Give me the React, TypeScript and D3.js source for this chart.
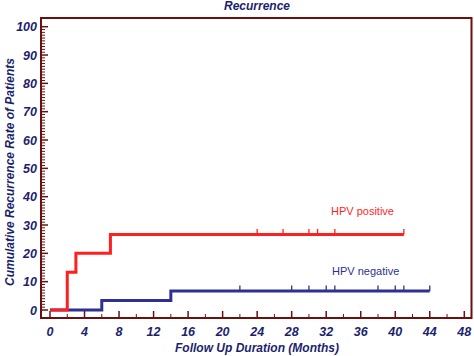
import React from "react";
import * as d3 from "d3";

const months = [0, 2, 3, 6, 7, 14, 41, 44];
const posTimes = [0, 2, 3, 7, 41];
const posValues = [0, 13.33, 20, 26.67, 26.67];
const negTimes = [0, 6, 14, 44];
const negValues = [0, 3.33, 6.67, 6.67];
const posCensored = [24, 27, 30, 31, 33, 41];
const negCensored = [22, 28, 30, 32, 33, 38, 40, 41, 44];
const xTickLabels = [0, 4, 8, 12, 16, 20, 24, 28, 32, 36, 40, 44, 48];
const yTickLabels = [0, 10, 20, 30, 40, 50, 60, 70, 80, 90, 100];

const W = 474;
const H = 356;
const AXIS = "#6a1010";
const NAVY = "#1c1f6e";
const RED = "#ff1f1f";
const BLUE = "#2e3192";
const FONT = "Liberation Sans, Arial, sans-serif";

export default function App() {
  const x = d3.scaleLinear().domain([0, 48]).range([50, 464.3]);
  const y = d3.scaleLinear().domain([0, 100]).range([310, 26.7]);
  const frame = { l: 41, t: 18, r: 471.5, b: 318 };

  const line = d3
    .line<[number, number]>()
    .x((d) => x(d[0]))
    .y((d) => y(d[1]))
    .curve(d3.curveStepAfter);

  const posData: [number, number][] = posTimes.map((t, i) => [t, posValues[i]]);
  const negData: [number, number][] = negTimes.map((t, i) => [t, negValues[i]]);
  const valueAt = (times: number[], vals: number[], t: number) => {
    let v = vals[0];
    times.forEach((tt, i) => {
      if (tt <= t) v = vals[i];
    });
    return v;
  };

  const yMinor = d3.range(0, 101, 1).filter((v) => v % 10 !== 0);
  const xMinor = d3.range(2, 48, 4);
  void months;

  return (
    <svg
      width={W}
      height={H}
      style={{ position: "absolute", left: 0, top: 0, background: "#fff" }}
      fontFamily={FONT}
    >
      <rect x={0} y={0} width={W} height={H} fill="#fff" />
      <text
        x={257}
        y={10}
        textAnchor="middle"
        fontSize={12}
        fontWeight="bold"
        fontStyle="italic"
        fill={NAVY}
      >
        Recurrence
      </text>

      {/* Y ticks */}
      {yTickLabels.map((v) => (
        <g key={"y" + v}>
          <line x1={frame.l} x2={frame.l + 7} y1={y(v)} y2={y(v)} stroke={AXIS} strokeWidth={1.5} />
          <text
            x={37}
            y={y(v) + 4.5}
            textAnchor="end"
            fontSize={12.5}
            fontWeight="bold"
            fontStyle="italic"
            fill={NAVY}
          >
            {v}
          </text>
        </g>
      ))}
      {yMinor.map((v) => (
        <line key={"ym" + v} x1={frame.l} x2={frame.l + 4} y1={y(v)} y2={y(v)} stroke={AXIS} strokeWidth={1} />
      ))}

      {/* X ticks */}
      {xTickLabels.map((v) => (
        <g key={"x" + v}>
          <line x1={x(v)} x2={x(v)} y1={frame.b} y2={frame.b - 7} stroke={AXIS} strokeWidth={1.5} />
          <text
            x={x(v)}
            y={336}
            textAnchor="middle"
            fontSize={12.5}
            fontWeight="bold"
            fontStyle="italic"
            fill={NAVY}
          >
            {v}
          </text>
        </g>
      ))}
      {xMinor.map((v) => (
        <line key={"xm" + v} x1={x(v)} x2={x(v)} y1={frame.b} y2={frame.b - 4} stroke={AXIS} strokeWidth={1} />
      ))}

      {/* Frame */}
      <rect
        x={frame.l}
        y={frame.t}
        width={frame.r - frame.l}
        height={frame.b - frame.t}
        fill="none"
        stroke={AXIS}
        strokeWidth={2}
      />

      {/* Curves */}
      <path d={line(negData) || ""} fill="none" stroke={BLUE} strokeWidth={3} />
      <path d={line(posData) || ""} fill="none" stroke={RED} strokeWidth={3} />

      {negCensored.map((t, i) => {
        const v = valueAt(negTimes, negValues, t);
        return (
          <line key={"nc" + i} x1={x(t)} x2={x(t)} y1={y(v)} y2={y(v) - 5.5} stroke={BLUE} strokeWidth={1.3} />
        );
      })}
      {posCensored.map((t, i) => {
        const v = valueAt(posTimes, posValues, t);
        return (
          <line key={"pc" + i} x1={x(t)} x2={x(t)} y1={y(v)} y2={y(v) - 5.5} stroke={RED} strokeWidth={1.3} />
        );
      })}

      <text x={331} y={215} fontSize={11} fill={RED}>
        HPV positive
      </text>
      <text x={332} y={275} fontSize={11} fill={BLUE}>
        HPV negative
      </text>

      {/* Axis titles */}
      <text
        x={257}
        y={352}
        textAnchor="middle"
        fontSize={12}
        fontWeight="bold"
        fontStyle="italic"
        fill={NAVY}
      >
        Follow Up Duration (Months)
      </text>
      <text
        transform={`translate(14, 172) rotate(-90)`}
        textAnchor="middle"
        fontSize={12}
        fontWeight="bold"
        fontStyle="italic"
        fill={NAVY}
      >
        Cumulative Recurrence Rate of Patients
      </text>
    </svg>
  );
}
